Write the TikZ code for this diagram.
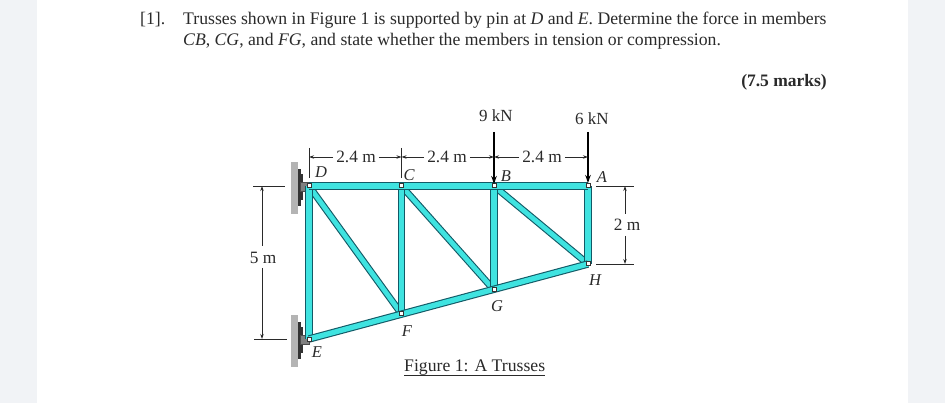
\documentclass[tikz,border=0pt]{standalone}
\usepackage{fontspec}
\setmainfont{Liberation Serif}
\usetikzlibrary{backgrounds,arrows.meta}
\definecolor{pagegray}{HTML}{F1F3F6}
\definecolor{membercyan}{HTML}{3FE3E0}
\definecolor{memberedge}{HTML}{125A66}
\definecolor{plategray}{HTML}{B4B4B4}
\definecolor{inkgray}{HTML}{2A2A2A}
\tikzset{
  member/.style={draw=memberedge,line width=1.1pt,double=membercyan,double distance=5.2pt},
  diagmember/.style={draw=memberedge,line width=1.1pt,double=membercyan,double distance=4.8pt},
  pin/.style={rectangle,draw=black!80,fill=white,line width=1pt,inner sep=0pt,minimum size=4pt},
  dim/.style={draw=inkgray,line width=0.9pt},
  dimarrow/.style={dim,-{Stealth[length=5pt,width=3.4pt]}},
  load/.style={draw=black,line width=1.7pt,-{Stealth[length=8pt,width=5.5pt]}},
  dimtext/.style={font=\fontsize{17.3}{17}\selectfont,text=inkgray,inner sep=0pt},
  loadtext/.style={font=\fontsize{17}{17}\selectfont,text=inkgray,inner sep=0pt},
  joint/.style={font=\fontsize{16.5}{16}\selectfont\itshape,text=inkgray,inner sep=0pt},
  body/.style={font=\fontsize{17.7}{18}\selectfont,text=inkgray,inner sep=0pt,anchor=base west},
  plate/.style={fill=plategray,draw=none},
  bolt/.style={fill=black!80,draw=none},
  bracket/.style={fill=gray,draw=black!70,line width=0.4pt}
}
\begin{document}
\begin{tikzpicture}[x=1pt,y=-1pt]
\useasboundingbox (0,0) rectangle (945,403);
\begin{scope}[on background layer]
  \fill[pagegray] (0,0) rectangle (945,403);
  \fill[white] (37,0) rectangle (908,403);
\end{scope}
% joints
\node[pin] (D) at (309,186) {};
\node[pin] (C) at (401.5,186) {};
\node[pin] (B) at (494,186) {};
\node[pin] (A) at (588,186) {};
\node[pin] (H) at (588,264) {};
\node[pin] (G) at (494,290) {};
\node[pin] (F) at (401.5,314) {};
\node[pin] (E) at (309,339) {};
\begin{scope}[on background layer]
  % supports
  \fill[plate] (291,162) rectangle (298,214);
  \fill[plate] (291,315) rectangle (298,367);
  \fill[bolt] (298,169) rectangle (301,206);
  \fill[bolt] (301,174) rectangle (303,200);
  \fill[bolt] (298,322) rectangle (301,359);
  \fill[bolt] (301,327) rectangle (303,353);
  \fill[bracket] (300,182) rectangle (309,191);
  \fill[bracket] (300,335) rectangle (309,344);
  % members
  \draw[diagmember] (D.center) -- (F.center);
  \draw[diagmember] (C.center) -- (G.center);
  \draw[diagmember] (B.center) -- (H.center);
  \draw[member] (D.center) -- (E.center);
  \draw[member] (C.center) -- (F.center);
  \draw[member] (B.center) -- (G.center);
  \draw[member] (A.center) -- (H.center);
  \draw[member] (D.center) -- (A.center);
  \draw[member] (E.center) -- (H.center);
\end{scope}
% question text
\node[body] (q0) at (140,25) {[1].};
\node[body] (q1) at (183,25) {Trusses shown in Figure 1 is supported by pin at \textit{D} and \textit{E}. Determine the force in members};
\node[body] (q2) at (183,46) {\textit{CB}, \textit{CG}, and \textit{FG}, and state whether the members in tension or compression.};
\node[font=\fontsize{17.5}{18}\selectfont\bfseries,text=inkgray,inner sep=0pt,anchor=base east] (marks) at (827,87) {(7.5 marks)};
% joint labels
\node[joint] (lD) at (321,172) {D};
\node[joint] (lC) at (409,175) {C};
\node[joint] (lB) at (506,176) {B};
\node[joint] (lA) at (602,177) {A};
\node[joint] (lH) at (595,280) {H};
\node[joint] (lG) at (497,306) {G};
\node[joint] (lF) at (407,331) {F};
\node[joint] (lE) at (317,352) {E};
% loads
\node[loadtext] (nine) at (496,116) {9 kN};
\node[loadtext] (six) at (592,119) {6 kN};
\coordinate (nineS) at (494,132);
\coordinate (sixS) at (588,132);
\coordinate (nineE) at (494,184);
\coordinate (sixE) at (588,183);
\draw[load] (nineS) -- (nineE);
\draw[load] (sixS) -- (sixE);
% top dimensions
\node[dimtext] (d1) at (356,157) {2.4 m};
\node[dimtext] (d2) at (447,157) {2.4 m};
\node[dimtext] (d3) at (542,157) {2.4 m};
\coordinate (xD) at (309,157);
\coordinate (xC) at (401.5,157);
\coordinate (xB) at (494,157);
\coordinate (xA) at (588,157);
\draw[dim] (309,148) -- (309,178);
\draw[dim] (401.5,148) -- (401.5,178);
\draw[dimarrow] (d1.west) ++(-3,0) -- (xD);
\draw[dimarrow] (d1.east) ++(3,0) -- (xC);
\draw[dimarrow] (d2.west) ++(-3,0) -- (xC);
\draw[dimarrow] (d2.east) ++(3,0) -- (xB);
\draw[dimarrow] (d3.west) ++(-3,0) -- (xB);
\draw[dimarrow] (d3.east) ++(3,0) -- (xA);
% 2 m
\node[dimtext] (two) at (627,225) {2 m};
\coordinate (yA) at (625,186);
\coordinate (yH) at (625,264);
\draw[dim] (596,186) -- (634,186);
\draw[dim] (596,264) -- (634,264);
\draw[dimarrow] (625,214) -- (yA);
\draw[dimarrow] (625,236) -- (yH);
% 5 m
\node[dimtext] (five) at (263,258) {5 m};
\coordinate (yD) at (262,186);
\coordinate (yE) at (262,339);
\draw[dim] (253,186) -- (285,186);
\draw[dim] (254,339) -- (287,339);
\draw[dimarrow] (262,246) -- (yD);
\draw[dimarrow] (262,268) -- (yE);
% caption
\node[font=\fontsize{17.7}{18}\selectfont,text=inkgray,inner sep=0pt,anchor=base west] (cap) at (404,371) {Figure 1: A Trusses};
\draw[line width=1pt,inkgray] (404,375) -- (545,375);
\end{tikzpicture}
\end{document}
